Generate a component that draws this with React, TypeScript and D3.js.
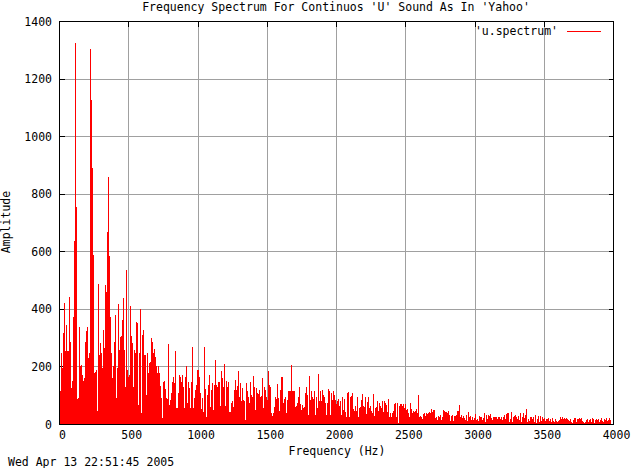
import * as d3 from 'd3';

// amplitude per spectrum bin
const ampBand0to540 = [
  117, 247, 195, 319, 423, 255, 346, 255, 255, 444, 288, 128, 152, 374, 638, 1326, 757, 88, 91, 340,
  203, 207, 172, 152, 160, 288, 326, 340, 230, 249, 1305, 1127, 892, 589, 178, 184, 189, 48, 488, 241,
  282, 249, 195, 328, 265, 485, 461, 670, 861, 585, 374, 249, 160, 203, 288, 380, 91, 195, 419, 259,
  303, 307, 363, 438, 259, 131, 537, 190, 166, 172, 412, 307, 282, 131, 259, 250, 356, 354,
];
const ampBand540to1120 = [
  68, 247, 400, 39, 311, 328, 241, 241, 102, 247, 180, 213, 218, 299, 288, 247, 261, 233, 203, 180,
  203, 178, 134, 91, 24, 149, 152, 122, 91, 88, 280, 68, 85, 108, 149, 166, 145, 256, 56, 56,
  108, 172, 166, 149, 172, 131, 56, 166, 203, 74, 149, 126, 56, 149, 268, 56, 91, 120, 137, 189,
  189, 166, 108, 53, 91, 45, 270, 122, 25, 102, 137, 172, 62, 120, 145, 50, 137, 224, 137, 131,
];
const ampBand1120to2050 = [
  146, 149, 64, 187, 160, 129, 210, 64, 152, 129, 146, 45, 45, 76, 80, 60, 120, 155, 120, 134,
  187, 97, 143, 83, 126, 85, 80, 15, 143, 118, 97, 73, 149, 102, 97, 168, 132, 50, 126, 109,
  105, 120, 97, 100, 160, 56, 129, 120, 94, 85, 187, 137, 132, 39, 31, 41, 60, 97, 90, 141,
  92, 48, 120, 166, 164, 73, 90,
  97, 39, 85, 118, 118, 118, 207, 115, 115, 115, 62, 64, 73, 97, 129, 71, 50, 67, 56, 62,
  109, 129, 102, 33, 168, 85, 115, 94, 90, 115, 33, 97, 56, 175, 80, 115, 80, 120, 102, 94,
  73, 33, 73, 122, 118, 33, 109, 85, 115, 102, 85, 71, 80, 90, 64, 80, 33, 97, 50, 90, 45,
];
const ampBand2050to3050 = [
  27, 111, 114, 25, 94, 99, 108, 53, 48, 64, 48, 94, 25, 56, 62, 85, 106, 64,
  62, 94, 36, 79, 97, 56, 64, 48, 39, 106, 29, 56, 62, 83, 48, 76, 64, 56, 82, 45,
  82, 73, 68, 45, 87, 25, 39, 27, 41, 48, 71, 76, 25, 76, 4, 64, 71, 71, 64, 71,
  56, 71, 50, 53, 41, 27, 76, 53, 41, 48, 45, 48, 53, 41, 102, 27, 29, 25, 18, 36,
  39, 29, 41, 36, 41, 45, 41, 53, 45, 50, 50, 21, 25, 16, 29, 25, 33, 16, 25, 50,
  48, 45, 45, 41, 48, 33, 13, 29, 33, 13, 29, 29, 33, 48, 48, 68, 25, 33, 21, 29,
  21, 16, 33, 13, 45, 27, 29, 16, 25, 16, 21, 36, 16, 18, 13, 29, 27, 25, 16, 21,
];
const ampBand3050to4000 = [
  41, 10, 33, 18, 33, 30, 36, 21, 16, 27, 27, 27, 27, 18, 27, 27, 18, 27,
  16, 27, 33, 18, 36, 39, 41, 10, 18, 43, 10, 25, 30, 33, 27, 18, 30, 16, 39, 10,
  27, 39, 21, 33, 53, 10, 18, 13, 25, 25, 18, 27, 10, 33, 4, 18, 30, 10, 30, 13,
  27, 18, 21, 13, 18, 18, 21, 13, 18, 10, 21, 13, 10, 18, 13, 10, 13, 16, 27, 18,
  25, 18, 21, 18, 21, 18, 16, 13, 18, 10, 6, 16, 21, 21, 10, 18, 18, 21, 18, 21,
  13, 10, 6, 10, 16, 18, 10, 16, 18, 10, 21, 18, 6, 16, 18, 16, 18, 10, 16, 21,
  13, 10, 18, 16, 21, 13, 16, 21, 16,
];

const FREQ_STEP = 4000 / 554; // Hz between bins

const xTicks = [0, 500, 1000, 1500, 2000, 2500, 3000, 3500, 4000];
const yTicks = [0, 200, 400, 600, 800, 1000, 1200, 1400];

const spectrum = [
  ...ampBand0to540,
  ...ampBand540to1120,
  ...ampBand1120to2050,
  ...ampBand2050to3050,
  ...ampBand3050to4000,
].map((v, i) => ({ f: (i + 1) * FREQ_STEP, v }));

const FONT = "'DejaVu Sans Mono', 'Liberation Mono', monospace";

export default function App() {
  const width = 631;
  const height = 468;
  const x = d3.scaleLinear().domain([0, 4000]).range([59.5, 613.5]);
  const y = d3.scaleLinear().domain([0, 1400]).range([424.5, 21.5]);
  const [x0, x1] = x.range();
  const [y0, y1] = y.range();
  const tick = 5;

  const impulses = spectrum
    .map((d) => `M${x(d.f)},${y0 - 0.5}V${y(d.v)}`)
    .join('');

  return (
    <svg
      width={width}
      height={height}
      style={{ position: 'absolute', left: 0, top: 0, background: '#fff' }}
      fontFamily={FONT}
      fontSize={11.5}
    >
      <rect width={width} height={height} fill="#fff" />

      {/* grid */}
      <g stroke="#a0a0a0" strokeWidth={1} shapeRendering="crispEdges">
        {xTicks.slice(1, -1).map((t) => (
          <line key={`gx${t}`} x1={x(t)} x2={x(t)} y1={y1} y2={y0} />
        ))}
        {yTicks.slice(1, -1).map((t) => (
          <line key={`gy${t}`} x1={x0} x2={x1} y1={y(t)} y2={y(t)} />
        ))}
      </g>

      {/* tics */}
      <g stroke="#000" strokeWidth={1} shapeRendering="crispEdges">
        {yTicks.map((t) => (
          <g key={`ty${t}`}>
            <line x1={x0} x2={x0 + tick} y1={y(t)} y2={y(t)} />
            <line x1={x1} x2={x1 - tick} y1={y(t)} y2={y(t)} />
          </g>
        ))}
        {xTicks.map((t) => (
          <g key={`tx${t}`}>
            <line x1={x(t)} x2={x(t)} y1={y0} y2={y0 - tick} />
            <line x1={x(t)} x2={x(t)} y1={y1} y2={y1 + tick} />
          </g>
        ))}
      </g>

      {/* data as impulses */}
      <path d={impulses} stroke="#ff0000" strokeWidth={1} fill="none" shapeRendering="crispEdges" />

      {/* border */}
      <rect
        x={x0}
        y={y1}
        width={x1 - x0}
        height={y0 - y1}
        fill="none"
        stroke="#000"
        strokeWidth={1}
        shapeRendering="crispEdges"
      />

      {/* tick labels */}
      {yTicks.map((t) => (
        <text key={`ly${t}`} x={52} y={y(t) + 4} textAnchor="end" fill="#000">
          {t}
        </text>
      ))}
      {xTicks.map((t) => (
        <text key={`lx${t}`} x={x(t) + 3} y={439} textAnchor="middle" fill="#000">
          {t}
        </text>
      ))}

      {/* titles */}
      <text x={336} y={11} textAnchor="middle" fill="#000">
        Frequency Spectrum For Continuos 'U' Sound As In 'Yahoo'
      </text>
      <text x={337} y={455} textAnchor="middle" fill="#000">
        Frequency (Hz)
      </text>
      <text transform="translate(10,222) rotate(-90)" textAnchor="middle" fill="#000">
        Amplitude
      </text>
      <text x={8} y={466} fill="#000">
        Wed Apr 13 22:51:45 2005
      </text>

      {/* key */}
      <text x={558} y={35} textAnchor="end" fill="#000">
        'u.spectrum'
      </text>
      <line x1={567} x2={601} y1={31.5} y2={31.5} stroke="#ff0000" strokeWidth={1} />
    </svg>
  );
}
